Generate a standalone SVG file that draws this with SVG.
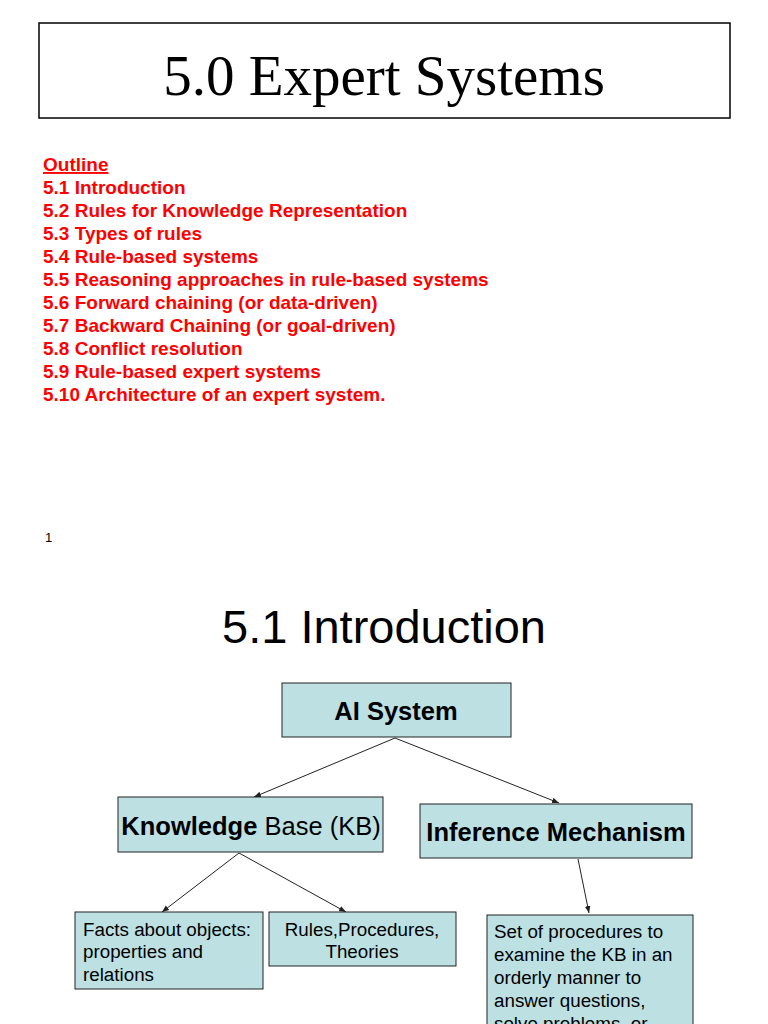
<svg xmlns="http://www.w3.org/2000/svg" width="768" height="1024" viewBox="0 0 768 1024">
<style>
.box{fill:#bde0e3;stroke:#222;stroke-width:1}
.o{font-family:"Liberation Sans",Arial,sans-serif;font-weight:bold;font-size:19px;fill:#ff0000}
.t{font-family:"Liberation Sans",Arial,sans-serif;font-size:18.8px;fill:#000}
.h{font-family:"Liberation Sans",Arial,sans-serif;font-weight:bold;font-size:25.5px;fill:#000}
.k{font-family:"Liberation Sans",Arial,sans-serif;font-size:25.5px;fill:#000}
.c{stroke:#222;stroke-width:1;fill:none;marker-end:url(#a)}
</style>
<defs><marker id="a" viewBox="0 0 10 10" refX="10" refY="5" markerWidth="7" markerHeight="7" orient="auto"><path d="M0,1 L10,5 L0,9 z" fill="#222"/></marker></defs>
<rect width="768" height="1024" fill="#fff"/>
<g id="title"><rect x="39" y="23" width="691" height="95" fill="#fff" stroke="#000" stroke-width="1.5"/>
<text x="384" y="95" text-anchor="middle" font-family="Liberation Serif,serif" font-size="57">5.0 Expert Systems</text></g>
<g id="outline">
<text class="o" x="43" y="171" text-decoration="underline">Outline</text>
<text class="o" x="43" y="194">5.1 Introduction</text>
<text class="o" x="43" y="217">5.2 Rules for Knowledge Representation</text>
<text class="o" x="43" y="240">5.3 Types of rules</text>
<text class="o" x="43" y="263">5.4 Rule-based systems</text>
<text class="o" x="43" y="286">5.5 Reasoning approaches in rule-based systems</text>
<text class="o" x="43" y="309">5.6 Forward chaining (or data-driven)</text>
<text class="o" x="43" y="332">5.7 Backward Chaining (or goal-driven)</text>
<text class="o" x="43" y="355">5.8 Conflict resolution</text>
<text class="o" x="43" y="378">5.9 Rule-based expert systems</text>
<text class="o" x="43" y="401">5.10 Architecture of an expert system.</text>
</g>
<text x="45" y="542" font-family="Liberation Sans,sans-serif" font-size="13">1</text>
<text x="384" y="643" text-anchor="middle" font-family="Liberation Sans,sans-serif" font-size="47">5.1 Introduction</text>
<g id="connectors">
<line class="c" x1="395" y1="738" x2="254" y2="797"/>
<line class="c" x1="395" y1="738" x2="559" y2="803"/>
<line class="c" x1="239" y1="853" x2="162" y2="912"/>
<line class="c" x1="239" y1="853" x2="346" y2="912"/>
<line class="c" x1="578" y1="859" x2="589" y2="913"/>
</g>
<g id="ai"><rect class="box" x="282" y="683" width="229" height="54"/><text class="h" x="396" y="720" text-anchor="middle">AI System</text></g>
<g id="kb"><rect class="box" x="118" y="797" width="265" height="55"/><text class="k" x="251" y="835" text-anchor="middle"><tspan font-weight="bold">Knowledge</tspan> Base (KB)</text></g>
<g id="im"><rect class="box" x="420" y="804" width="272" height="54"/><text class="h" x="556" y="841" text-anchor="middle">Inference Mechanism</text></g>
<g id="facts"><rect class="box" x="75" y="912" width="188" height="77"/>
<text class="t" x="83" y="936">Facts about objects:</text><text class="t" x="83" y="958">properties and</text><text class="t" x="83" y="981">relations</text></g>
<g id="rules"><rect class="box" x="269" y="912" width="187" height="54"/>
<text class="t" x="362" y="936" text-anchor="middle">Rules,Procedures,</text><text class="t" x="362" y="958" text-anchor="middle">Theories</text></g>
<g id="set"><rect class="box" x="487" y="915" width="206" height="130"/>
<text class="t" x="494" y="938">Set of procedures to</text><text class="t" x="494" y="961">examine the KB in an</text><text class="t" x="494" y="984">orderly manner to</text><text class="t" x="494" y="1007">answer questions,</text><text class="t" x="494" y="1030">solve problems, or</text></g>
</svg>
